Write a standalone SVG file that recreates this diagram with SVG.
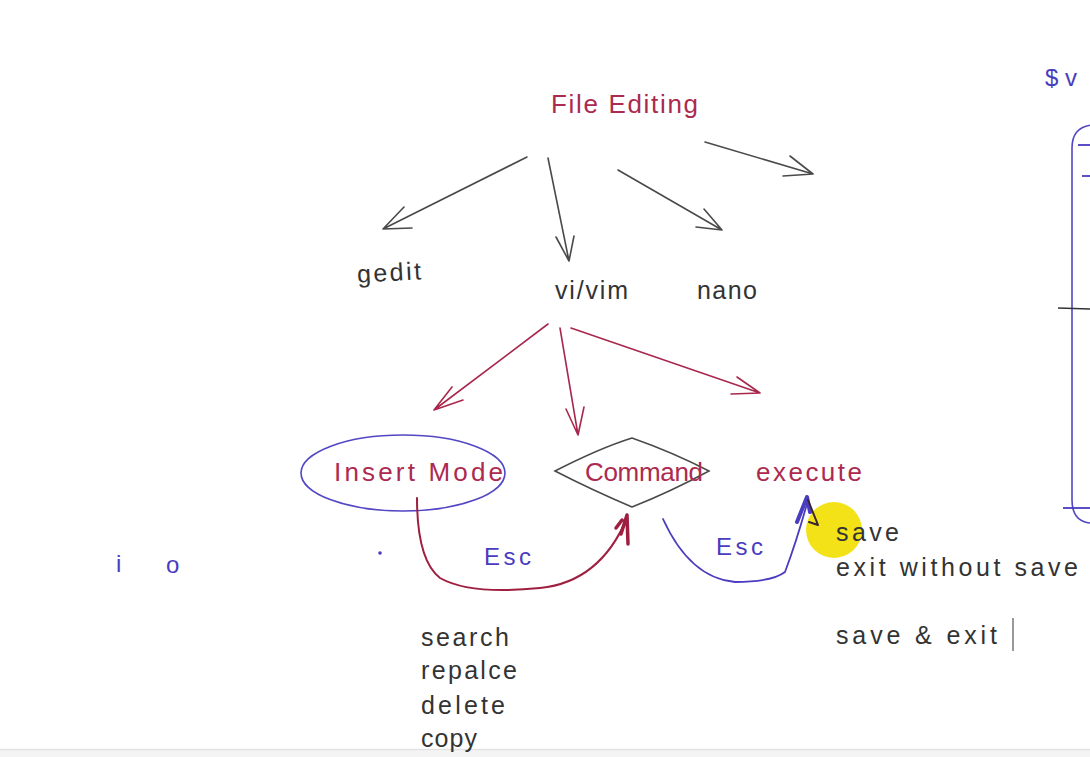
<svg xmlns="http://www.w3.org/2000/svg" width="1090" height="757" viewBox="0 0 1090 757">
<defs>
<style>
text{font-family:"Liberation Sans","DejaVu Sans",sans-serif;}
.red{fill:#ac2a4f;font-size:26px;}
.dark{fill:#333;font-size:25px;}
.blue{fill:#4a3cbf;font-size:24px;}
.ln{fill:none;stroke-linecap:round;stroke-linejoin:round;}
.g{stroke:#4a4a4a;stroke-width:1.6;}
.r{stroke:#a8284d;stroke-width:1.6;}
.b{stroke:#4a3cbf;stroke-width:1.8;}
</style>
</defs>
<rect width="1090" height="757" fill="#ffffff"/>
<rect x="0" y="749" width="1090" height="8" fill="#f4f4f4"/>
<line x1="0" y1="749.5" x2="1090" y2="749.5" stroke="#e2e2e2" stroke-width="1.5"/>

<g id="title"><text class="red" x="551" y="113" textLength="147" lengthAdjust="spacing">File Editing</text></g>
<g id="gedit"><text class="dark" x="357" y="281" textLength="64" lengthAdjust="spacing" transform="rotate(-3 389 273)">gedit</text></g>
<g id="vivim"><text class="dark" x="555" y="299" textLength="73" lengthAdjust="spacing">vi/vim</text></g>
<g id="nano"><text class="dark" x="697" y="299" textLength="60" lengthAdjust="spacing">nano</text></g>

<g id="insert-mode">
<ellipse cx="403" cy="473" rx="102" ry="38" fill="none" stroke="#5247c4" stroke-width="1.6"/>
<text class="red" x="334" y="481" textLength="169" lengthAdjust="spacing">Insert Mode</text>
</g>
<g id="command">
<path d="M555 471 Q600 448 632 438 Q672 452 709 471 Q670 492 632 507 Q592 490 555 471 Z" fill="none" stroke="#4a4a4a" stroke-width="1.5"/>
<text class="red" x="585" y="481" textLength="118" lengthAdjust="spacing">Command</text>
</g>
<g id="execute"><text class="red" x="756" y="481" textLength="106" lengthAdjust="spacing">execute</text></g>

<g id="highlight"><circle cx="834" cy="530" r="28" fill="#f3df00" opacity="0.9"/></g>

<g id="save-list">
<text class="dark" x="836" y="541" textLength="63" lengthAdjust="spacing">save</text>
<text class="dark" x="836" y="576" textLength="242" lengthAdjust="spacing">exit without save</text>
<text class="dark" x="836" y="644" textLength="161" lengthAdjust="spacing">save &amp; exit</text>
<line x1="1013" y1="618" x2="1013" y2="651" stroke="#555" stroke-width="1.2"/>
</g>

<g id="command-list">
<text class="dark" x="421" y="646" textLength="88" lengthAdjust="spacing">search</text>
<text class="dark" x="421" y="679" textLength="96" lengthAdjust="spacing">repalce</text>
<text class="dark" x="421" y="714" textLength="84" lengthAdjust="spacing">delete</text>
<text class="dark" x="421" y="747" textLength="56" lengthAdjust="spacing">copy</text>
</g>

<g id="keys">
<text class="blue" x="116" y="572" font-size="20">i</text>
<text class="blue" x="166" y="573" font-size="20">o</text>
<circle cx="380" cy="553" r="1.8" fill="#4a3cbf"/>
</g>

<g id="terminal">
<text class="blue" x="1045" y="86" font-size="28">$ v</text>
<path d="M1092 125 Q1072 127 1072 148 L1072 500 Q1072 521 1090 523" fill="none" stroke="#5247c4" stroke-width="1.6"/>
<line x1="1078" y1="145" x2="1090" y2="145" stroke="#4a3cbf" stroke-width="1.8"/>
<line x1="1082" y1="176" x2="1090" y2="176" stroke="#4a3cbf" stroke-width="1.8"/>
<line x1="1058" y1="308" x2="1090" y2="309" stroke="#333" stroke-width="1.6"/>
<line x1="1063" y1="508" x2="1090" y2="508" stroke="#4a3cbf" stroke-width="1.8"/>
</g>

<g id="connectors">
<path class="ln g" d="M527 157 L383 229 M383 229 L404 207 M383 229 L412 228"/>
<path class="ln g" d="M548 158 L569 261 M569 261 L556 237 M569 261 L574 236"/>
<path class="ln g" d="M618 170 L722 230 M722 230 L704 209 M722 230 L696 227"/>
<path class="ln g" d="M705 142 L813 174 M813 174 L790 156 M813 174 L783 176"/>
<path class="ln r" d="M548 324 L434 410 M434 410 L452 387 M434 410 L463 400"/>
<path class="ln r" d="M560 328 L578 435 M578 435 L566 409 M578 435 L584 407"/>
<path class="ln r" d="M571 328 L760 393 M760 393 L737 377 M760 393 L731 394"/>
<path class="ln" stroke="#9e1f40" stroke-width="2" d="M417 498 Q417 560 440 578 Q470 595 540 588 Q600 582 627 518"/>
<path class="ln" stroke="#9e1f40" stroke-width="3.5" d="M627 515 L621 534 M627 515 L628 544 M622 520 L616 528"/>
<path class="ln b" d="M663 519 Q690 578 735 582 Q772 582 785 572 Q797 540 808 500"/>
<path class="ln" stroke="#4a3cbf" stroke-width="4" d="M807 497 L797 522 M807 497 L810 512"/>
<path class="ln" stroke="#3a2530" stroke-width="2" d="M808 500 L818 525 L809 522"/>
<text class="blue" x="484" y="565" textLength="47" lengthAdjust="spacing">Esc</text>
<text class="blue" x="716" y="555" textLength="47" lengthAdjust="spacing">Esc</text>
</g>
</svg>
